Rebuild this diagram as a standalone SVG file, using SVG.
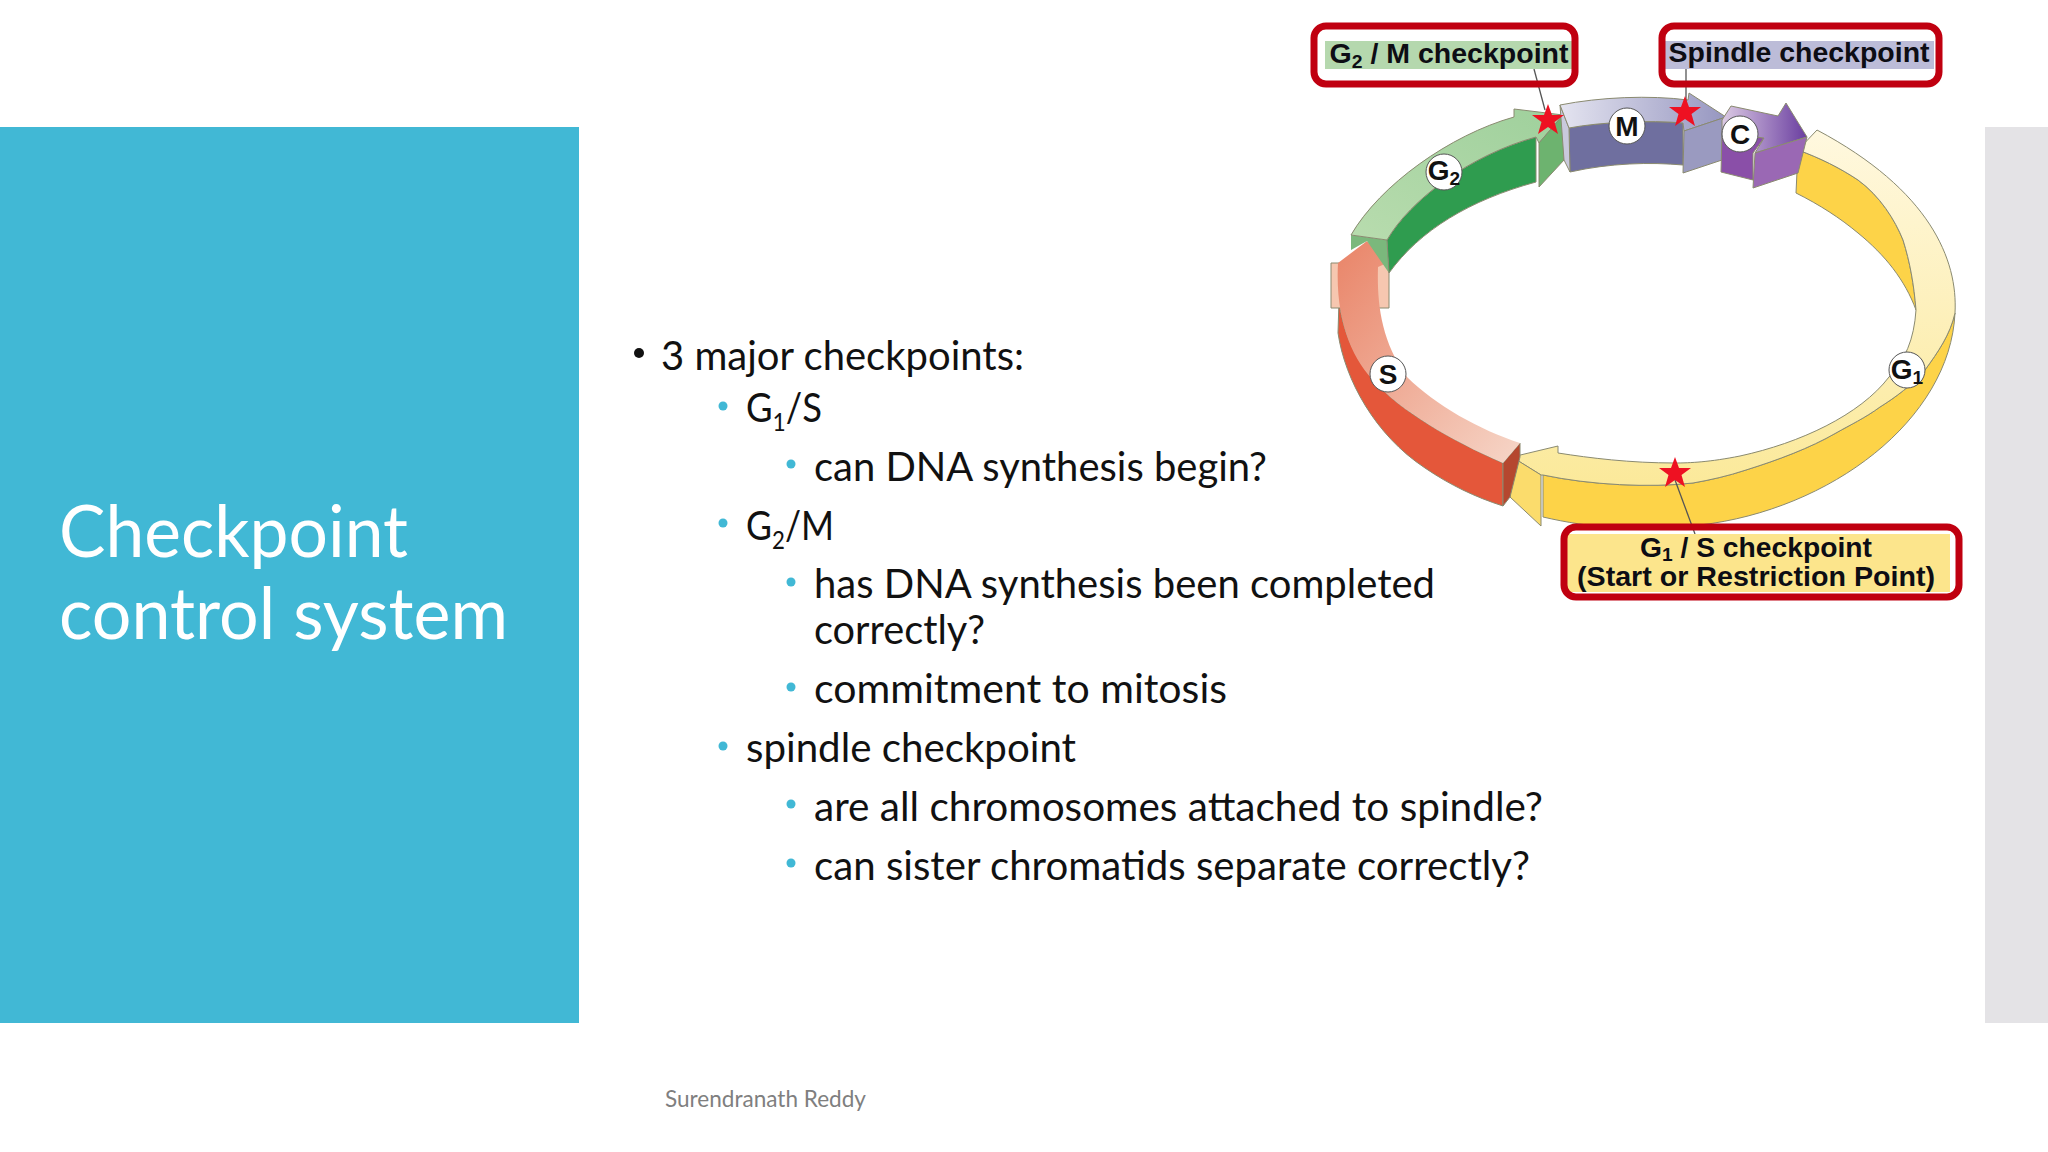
<svg xmlns="http://www.w3.org/2000/svg" width="2048" height="1152" viewBox="0 0 2048 1152">
<style>
.title{font-family:Lato,"Open Sans",sans-serif;font-size:72px;fill:#fff;font-weight:400}
.b{font-family:Lato,"Open Sans",sans-serif;font-size:40px;fill:#111}
.foot{font-family:Lato,"Open Sans",sans-serif;font-size:23px;fill:#7f7f7f}
.l{font-family:"Liberation Sans",Arial,sans-serif;font-weight:700;font-size:28px;fill:#0d0d14;text-anchor:middle}
.c{font-family:"Liberation Sans",Arial,sans-serif;font-weight:700;font-size:28px;fill:#111;text-anchor:middle}
.sub{font-size:19px}
.bs{font-size:25px}
.red{fill:none;stroke:#c00010;stroke-width:7}
.dot{fill:#41b8d5}
.o{stroke:#8a8a70;stroke-width:1;stroke-linejoin:round}
.circ{fill:#fff;stroke:#555;stroke-width:1}
.star{fill:#ee1122}
.lead{stroke:#555;stroke-width:1.3;fill:none}
</style>
<defs>
<linearGradient id="gG" x1="0" y1="1" x2="1" y2="0"><stop offset="0" stop-color="#b8dcae"/><stop offset="1" stop-color="#9fd09c"/></linearGradient>
<linearGradient id="gM" x1="0" y1="0" x2="1" y2="0"><stop offset="0" stop-color="#e4e4f0"/><stop offset="1" stop-color="#9696c0"/></linearGradient>
<linearGradient id="gC" x1="0" y1="0" x2="1" y2="0"><stop offset="0" stop-color="#dccbe4"/><stop offset="1" stop-color="#6a3ea0"/></linearGradient>
<linearGradient id="gY" x1="0" y1="0" x2="0" y2="1"><stop offset="0" stop-color="#fff8df"/><stop offset="1" stop-color="#fbe99a"/></linearGradient>
<linearGradient id="gS" x1="0" y1="0" x2="1" y2="1"><stop offset="0" stop-color="#e98468"/><stop offset="1" stop-color="#f6d6c8"/></linearGradient>
<polygon id="st" points="0,-16 4,-5 16,-5 6.5,2 10,14 0,7 -10,14 -6.5,2 -16,-5 -4,-5"/>
</defs>
<rect width="2048" height="1152" fill="#fff"/>
<g id="title-panel">
<rect x="0" y="127" width="579" height="896" fill="#41b8d5"/>
<text class="title" x="59" y="557" textLength="349" lengthAdjust="spacingAndGlyphs">Checkpoint</text>
<text class="title" x="59" y="639" textLength="449" lengthAdjust="spacingAndGlyphs">control system</text>
</g>
<rect id="side-panel" x="1985" y="127" width="63" height="896" fill="#e4e3e6"/>
<g id="body-text">
<circle cx="639" cy="353" r="5" fill="#111"/>
<text class="b" x="661" y="370" textLength="363" lengthAdjust="spacingAndGlyphs">3 major checkpoints:</text>
<circle class="dot" cx="723" cy="406" r="4.5"/>
<text class="b" x="746" y="422" textLength="76" lengthAdjust="spacingAndGlyphs">G<tspan class="bs" dy="9">1</tspan><tspan dy="-9">/S</tspan></text>
<circle class="dot" cx="791" cy="464" r="4.5"/>
<text class="b" x="814" y="481" textLength="453" lengthAdjust="spacingAndGlyphs">can DNA synthesis begin?</text>
<circle class="dot" cx="723" cy="523" r="4.5"/>
<text class="b" x="746" y="540" textLength="88" lengthAdjust="spacingAndGlyphs">G<tspan class="bs" dy="9">2</tspan><tspan dy="-9">/M</tspan></text>
<circle class="dot" cx="791" cy="582" r="4.5"/>
<text class="b" x="814" y="598" textLength="621" lengthAdjust="spacingAndGlyphs">has DNA synthesis been completed</text>
<text class="b" x="814" y="644" textLength="171" lengthAdjust="spacingAndGlyphs">correctly?</text>
<circle class="dot" cx="791" cy="687" r="4.5"/>
<text class="b" x="814" y="703" textLength="413" lengthAdjust="spacingAndGlyphs">commitment to mitosis</text>
<circle class="dot" cx="723" cy="746" r="4.5"/>
<text class="b" x="746" y="762" textLength="330" lengthAdjust="spacingAndGlyphs">spindle checkpoint</text>
<circle class="dot" cx="791" cy="804" r="4.5"/>
<text class="b" x="814" y="821" textLength="729" lengthAdjust="spacingAndGlyphs">are all chromosomes attached to spindle?</text>
<circle class="dot" cx="791" cy="863" r="4.5"/>
<text class="b" x="814" y="880" textLength="716" lengthAdjust="spacingAndGlyphs">can sister chromatids separate correctly?</text>
</g>
<text id="footer" class="foot" x="665" y="1107" textLength="201" lengthAdjust="spacingAndGlyphs">Surendranath Reddy</text>
<g id="cycle">
<g id="phase-g1">
<path class="o" fill="#fdd348" d="M1798,150 C1820,158 1840,168 1858,180 C1880,196 1895,220 1903,240 C1910,262 1914,285 1916,310 C1905,280 1885,255 1858,233 C1840,218 1820,205 1796,193Z"/>
<path class="o" fill="#fdd348" d="M1543,475 C1590,485 1650,488 1693,483 C1710,480 1728,476 1746,470 C1778,460 1810,448 1836,433 C1850,425 1865,418 1880,407 C1896,397 1912,385 1925,370 C1938,352 1950,335 1955,313 C1950,420 1830,510 1700,525 C1640,532 1590,528 1543,517Z"/>
<path class="o" fill="url(#gY)" d="M1817,130 L1798,150 C1820,158 1840,168 1858,180 C1880,196 1895,220 1903,240 C1910,262 1914,285 1916,310 C1914,340 1905,360 1889,377 C1860,415 1800,443 1740,456 C1710,462 1690,463 1675,463 C1630,463 1590,458 1558,453 L1558,446 L1512,457 L1541,475 L1543,475 C1590,485 1650,488 1693,483 C1710,480 1728,476 1746,470 C1778,460 1810,448 1836,433 C1850,425 1865,418 1880,407 C1896,397 1912,385 1925,370 C1938,352 1950,335 1955,313 C1958,260 1930,190 1817,130Z"/>
<path class="o" fill="#fbdc6c" d="M1512,457 L1541,475 L1541,526 L1510,497Z"/>
</g>
<g id="phase-s">
<path class="o" fill="#e4573a" d="M1339,300 L1338,333 C1345,380 1375,435 1425,468 C1450,485 1475,497 1503,506 L1503,463 C1450,440 1400,410 1376,383 C1355,360 1342,330 1339,300Z"/>
<path class="o" fill="#b5472f" d="M1503,463 L1520,443 L1520,457 L1510,497 L1503,506Z"/>
<rect class="o" x="1331" y="263" width="58" height="45" fill="#f6c7b0"/>
<path fill="url(#gS)" d="M1338,263 L1367,241 L1387,263 L1378,267 C1377,300 1380,340 1407,377 C1435,405 1480,430 1520,443 L1503,463 C1450,440 1400,410 1376,383 C1352,360 1335,320 1338,263Z"/>
</g>
<g id="phase-g2">
<path fill="#7bb87c" d="M1351,235 L1387,240 L1389,273 L1367,241 L1351,250Z"/>
<path class="o" fill="#2f9c4f" d="M1387,240 C1410,200 1470,155 1536,137 L1536,182 C1470,200 1420,230 1389,273Z"/>
<path class="o" fill="url(#gG)" d="M1351,235 C1380,185 1450,135 1514,117 L1514,109 L1563,115 L1539,143 L1536,137 C1470,155 1410,200 1387,240Z"/>
<path class="o" fill="#6db36f" d="M1539,143 L1563,115 L1564,160 L1539,187Z"/>
</g>
<g id="phase-m">
<path class="o" fill="#6f6f9f" d="M1569,128 C1600,122 1650,120 1683,123 L1683,165 C1650,162 1610,163 1570,172Z"/>
<path class="o" fill="#c9c9dc" d="M1560,105 L1569,128 L1570,172 L1564,160Z"/>
<path class="o" fill="url(#gM)" d="M1560,105 C1600,97 1650,95 1688,100 L1689,93 L1726,117 L1684,131 L1683,123 C1650,120 1600,122 1569,128Z"/>
<path class="o" fill="#9a9ac0" d="M1684,131 L1726,117 L1722,160 L1683,173Z"/>
</g>
<g id="phase-c">
<path class="o" fill="#8a4fa8" d="M1722,133 L1764,138 L1753,153 L1753,180 L1721,172Z"/>
<path class="o" fill="url(#gC)" d="M1731,106 L1778,116 L1786,103 L1807,137 L1755,153 L1764,138 L1722,133 L1722,120Z"/>
<path class="o" fill="#9a68b4" d="M1755,153 L1807,137 L1798,173 L1753,188Z"/>
</g>
</g>
<g id="connectors">
<path class="lead" d="M1534,69 L1545,110"/>
<path class="lead" d="M1686,68 L1686,105"/>
<path class="lead" d="M1675,480 L1695,534"/>
</g>
<g id="stars">
<use class="star" href="#st" x="1548" y="120"/>
<use class="star" href="#st" x="1685" y="112"/>
<use class="star" href="#st" x="1675" y="473"/>
</g>
<g id="label-g2"><circle class="circ" cx="1444" cy="172" r="18"/><text class="c" x="1444" y="180">G<tspan class="sub" dy="5">2</tspan></text></g>
<g id="label-m"><circle class="circ" cx="1627" cy="126" r="18"/><text class="c" x="1627" y="136">M</text></g>
<g id="label-c"><circle class="circ" cx="1740" cy="134" r="18"/><text class="c" x="1740" y="144">C</text></g>
<g id="label-g1"><circle class="circ" cx="1907" cy="370" r="18"/><text class="c" x="1907" y="379">G<tspan class="sub" dy="5">1</tspan></text></g>
<g id="label-s"><circle class="circ" cx="1388" cy="374" r="18"/><text class="c" x="1388" y="384">S</text></g>
<g id="checkpoint-g2m">
<rect x="1325" y="41" width="247" height="28" fill="#b5d8ae"/>
<rect class="red" x="1314" y="26" width="261" height="58" rx="12"/>
<text class="l" x="1449" y="63" textLength="239" lengthAdjust="spacingAndGlyphs">G<tspan class="sub" dy="5">2</tspan><tspan dy="-5"> / M checkpoint</tspan></text>
</g>
<g id="checkpoint-spindle">
<rect x="1664" y="41" width="270" height="28" fill="#bcbcd8"/>
<rect class="red" x="1662" y="26" width="277" height="58" rx="12"/>
<text class="l" x="1799" y="62" textLength="261" lengthAdjust="spacingAndGlyphs">Spindle checkpoint</text>
</g>
<g id="checkpoint-g1s">
<rect x="1566" y="534" width="384" height="58" fill="#fce58c"/>
<rect class="red" x="1564" y="527" width="395" height="70" rx="12"/>
<text class="l" x="1756" y="557" textLength="232" lengthAdjust="spacingAndGlyphs">G<tspan class="sub" dy="4">1</tspan><tspan dy="-4"> / S checkpoint</tspan></text>
<text class="l" x="1756" y="586" textLength="358" lengthAdjust="spacingAndGlyphs">(Start or Restriction Point)</text>
</g>
</svg>
